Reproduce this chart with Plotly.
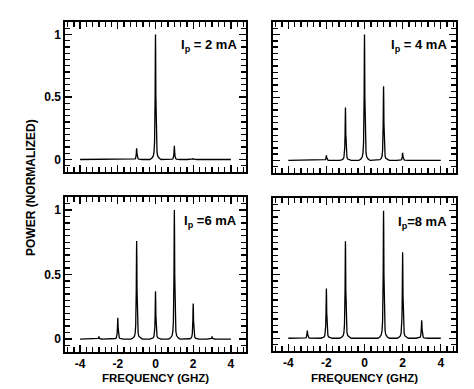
import plotly.graph_objects as go

# ---------------- data ----------------
peak_freq_ghz = [-3, -2, -1, 0, 1, 2, 3]
power_2mA = [0.0, 0.0, 0.09, 1.00, 0.11, 0.008, 0.0]
power_4mA = [0.0, 0.04, 0.42, 1.00, 0.59, 0.06, 0.0]
power_6mA = [0.02, 0.165, 0.76, 0.37, 1.00, 0.275, 0.02]
power_8mA = [0.06, 0.39, 0.76, 0.0, 1.00, 0.675, 0.14]
panel_labels = ["I<sub>p</sub> = 2 mA", "I<sub>p</sub> = 4 mA",
                "I<sub>p</sub> =6 mA", "I<sub>p</sub>=8 mA"]
span_ghz = [-4, 4]
x_tick_vals = [-4, -2, 0, 2, 4]
x_tick_text = ["-4", "-2", "0", "2", "4"]
y_tick_vals = [0, 0.5, 1]
y_tick_text = ["0", "0.5", "1"]
x_minor_step = 1 / 3
y_minor_step = 0.05

# style: narrow line-shape template for one spectral line
# (offset in GHz, fraction of peak height)
LINE_SHAPE = [(-0.30, 0.0), (-0.20, 0.010), (-0.12, 0.027), (-0.08, 0.059),
              (-0.05, 0.138), (-0.035, 0.246), (-0.02, 0.5), (-0.008, 0.86),
              (0.0, 1.0),
              (0.008, 0.86), (0.02, 0.5), (0.035, 0.246), (0.05, 0.138),
              (0.08, 0.059), (0.12, 0.027), (0.20, 0.010), (0.30, 0.0)]


def spectrum(heights):
    xs, ys = [span_ghz[0]], [0.0]
    for f, h in zip(peak_freq_ghz, heights):
        if h <= 0:
            continue
        for dx, frac in LINE_SHAPE:
            xs.append(f + dx)
            ys.append(h * frac)
    xs.append(span_ghz[1])
    ys.append(0.0)
    return xs, ys


FONT = "Liberation Sans"
INK = "#000000"
W, H = 474, 389
X_RANGE = [-4.8, 4.8]
Y_RANGE = [-0.1, 1.1]

boxes = [(57, 238, 14, 164), (265, 448, 14, 165),
         (57, 238, 189, 344), (265, 448, 190, 343)]
series = [power_2mA, power_4mA, power_6mA, power_8mA]

fig = go.Figure()
layout = dict(
    template="none",
    width=W, height=H, margin=dict(l=0, r=0, t=0, b=0, autoexpand=False),
    paper_bgcolor="white", plot_bgcolor="white", showlegend=False,
    font=dict(family=FONT, size=11, color=INK),
    annotations=[],
)

for i, (heights, box) in enumerate(zip(series, boxes)):
    n = "" if i == 0 else str(i + 1)
    xs, ys = spectrum(heights)
    fig.add_trace(go.Scatter(x=xs, y=ys, mode="lines",
                             line=dict(color=INK, width=1.3),
                             xaxis="x" + n, yaxis="y" + n, hoverinfo="skip"))
    l, r, t, b = box
    bottom_row = i >= 2
    left_col = i % 2 == 0
    layout["xaxis" + n] = dict(
        domain=[l / W, r / W], range=X_RANGE, anchor="y" + n,
        showline=True, linecolor=INK, linewidth=1.7, mirror="allticks",
        showgrid=False, zeroline=False, automargin=False,
        tickmode="array", tickvals=x_tick_vals, ticktext=x_tick_text,
        ticks="inside", ticklen=7, tickwidth=1.4, tickcolor=INK,
        showticklabels=bottom_row,
        tickfont=dict(size=12, family=FONT, weight="bold"),
        minor=dict(ticks="inside", ticklen=5, tickwidth=1.4, tickcolor=INK,
                   tick0=0, dtick=x_minor_step, showgrid=False),
    )
    layout["yaxis" + n] = dict(
        domain=[1 - b / H, 1 - t / H], range=Y_RANGE, anchor="x" + n,
        showline=True, linecolor=INK, linewidth=1.7, mirror="allticks",
        showgrid=False, zeroline=False, automargin=False,
        tickmode="array", tickvals=y_tick_vals, ticktext=y_tick_text,
        ticks="inside", ticklen=7, tickwidth=1.4, tickcolor=INK,
        showticklabels=left_col,
        tickfont=dict(size=12, family=FONT, weight="bold"),
        minor=dict(ticks="inside", ticklen=5, tickwidth=1.4, tickcolor=INK,
                   tick0=0, dtick=y_minor_step, showgrid=False),
    )
    layout["annotations"].append(dict(
        text=panel_labels[i], xref="paper", yref="paper",
        x=(r - 7) / W, y=1 - (t + 24) / H, xanchor="right", yanchor="middle",
        showarrow=False, font=dict(size=13, family=FONT, color=INK, weight="bold")))
    if bottom_row:
        layout["annotations"].append(dict(
            text="FREQUENCY (GHZ)", xref="paper", yref="paper",
            x=((l + r) / 2) / W, y=1 - 370 / H, xanchor="center",
            yanchor="middle", showarrow=False,
            font=dict(size=11.5, family=FONT, color=INK, weight="bold")))

layout["annotations"].append(dict(
    text="POWER (NORMALIZED)", xref="paper", yref="paper",
    x=23 / W, y=1 - 180 / H, xanchor="center", yanchor="middle",
    textangle=-90, showarrow=False,
    font=dict(size=12, family=FONT, color=INK, weight="bold")))

fig.update_layout(**layout)
fig.write_html("out.html", config={"staticPlot": True})
